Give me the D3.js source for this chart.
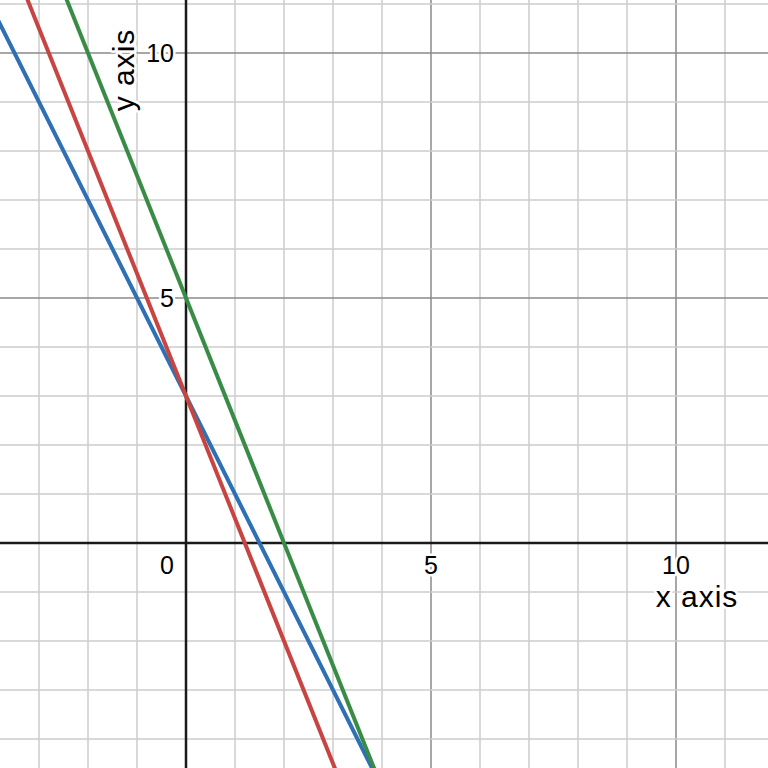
<!DOCTYPE html>
<html>
<head>
<meta charset="utf-8">
<script src="https://cdn.jsdelivr.net/npm/d3@7"></script>
<style>
	html, body { margin: 0; padding: 0; background: #fff; }
	svg { display: block; font-family: "Liberation Sans", Arial, sans-serif; }
</style>
</head>
<body>
<div id="chart"></div>
<script>
// line endpoints (x, y)
const lineNames = ['blue', 'red', 'green'];
const lineColors = ['#2d70b3', '#c74440', '#388c46'];
const lineXs = [[-4, 4], [-4, 4], [-4, 4]];
const lineYs = [[11, -5], [13, -7], [15, -5]];

const xTickLabels = [5, 10];
const yTickLabels = [5, 10];
const xTitle = 'x axis';
const yTitle = 'y axis';

const W = 768, H = 768;
const unit = 49,
	x0 = 186,
	y0 = 543;

const scaleX = d3.scaleLinear().domain([-x0 / unit, (W - x0) / unit]).range([0, W]);
const scaleY = d3.scaleLinear().domain([-(H - y0) / unit, y0 / unit]).range([H, 0]);

let svg = d3.select('#chart').append('svg').attr('width', W).attr('height', H);

svg.append('defs').append('clipPath').attr('id', 'clip')
	.append('rect').attr('width', W).attr('height', H);

// grid, every unit; darker every 5
const xs = d3.range(Math.ceil(scaleX.domain()[0]), Math.floor(scaleX.domain()[1]) + 1).filter(d => d != 0);
const ys = d3.range(Math.ceil(scaleY.domain()[0]), Math.floor(scaleY.domain()[1]) + 1).filter(d => d != 0);
const gridColor = d => d % 5 == 0 ? '#8a8a8a' : '#cccccc';

svg.append('g').selectAll('line').data(xs).join('line')
	.attr('x1', d => scaleX(d)).attr('x2', d => scaleX(d))
	.attr('y1', 0).attr('y2', H)
	.attr('stroke', gridColor).attr('stroke-width', 1.5);
svg.append('g').selectAll('line').data(ys).join('line')
	.attr('y1', d => scaleY(d)).attr('y2', d => scaleY(d))
	.attr('x1', 0).attr('x2', W)
	.attr('stroke', gridColor).attr('stroke-width', 1.5);

// axes
svg.append('line').attr('x1', scaleX(0)).attr('x2', scaleX(0)).attr('y1', 0).attr('y2', H)
	.attr('stroke', '#1a1a1a').attr('stroke-width', 2.5);
svg.append('line').attr('y1', scaleY(0)).attr('y2', scaleY(0)).attr('x1', 0).attr('x2', W)
	.attr('stroke', '#1a1a1a').attr('stroke-width', 2.5);

// the lines
const line = d3.line().x(d => scaleX(d[0])).y(d => scaleY(d[1]));
let lg = svg.append('g').attr('clip-path', 'url(#clip)');
lineNames.forEach(function(nm, i){
	lg.append('path')
		.datum(d3.zip(lineXs[i], lineYs[i]))
		.attr('d', line)
		.attr('fill', 'none')
		.attr('stroke', lineColors[i])
		.attr('stroke-width', 4);
});

// labels with white halo
function label(x, y, txt, size, anchor, spacing = 0){
	let g = svg.append('g');
	[true, false].forEach(function(halo){
		let t = g.append('text').attr('x', x).attr('y', y).attr('text-anchor', anchor)
			.style('font-size', size + 'px').style('letter-spacing', spacing + 'px')
			.attr('fill', halo ? '#fff' : '#000').text(txt);
		if(halo){
			t.attr('stroke', '#fff').attr('stroke-width', 5).attr('stroke-linejoin', 'round');
		}
	});
	return g;
}

label(scaleX(0) - 12, scaleY(0) + 31, '0', 25, 'end');
xTickLabels.forEach(d => label(scaleX(d), scaleY(0) + 31, d, 25, 'middle'));
yTickLabels.forEach(d => label(scaleX(0) - 12, scaleY(d) + 9, d, 25, 'end'));

label(697, 607, xTitle, 30, 'middle', 1);
let yt = label(0, 0, yTitle, 30, 'middle', 1);
yt.attr('transform', 'translate(134,70) rotate(-90)');
</script>
</body>
</html>
